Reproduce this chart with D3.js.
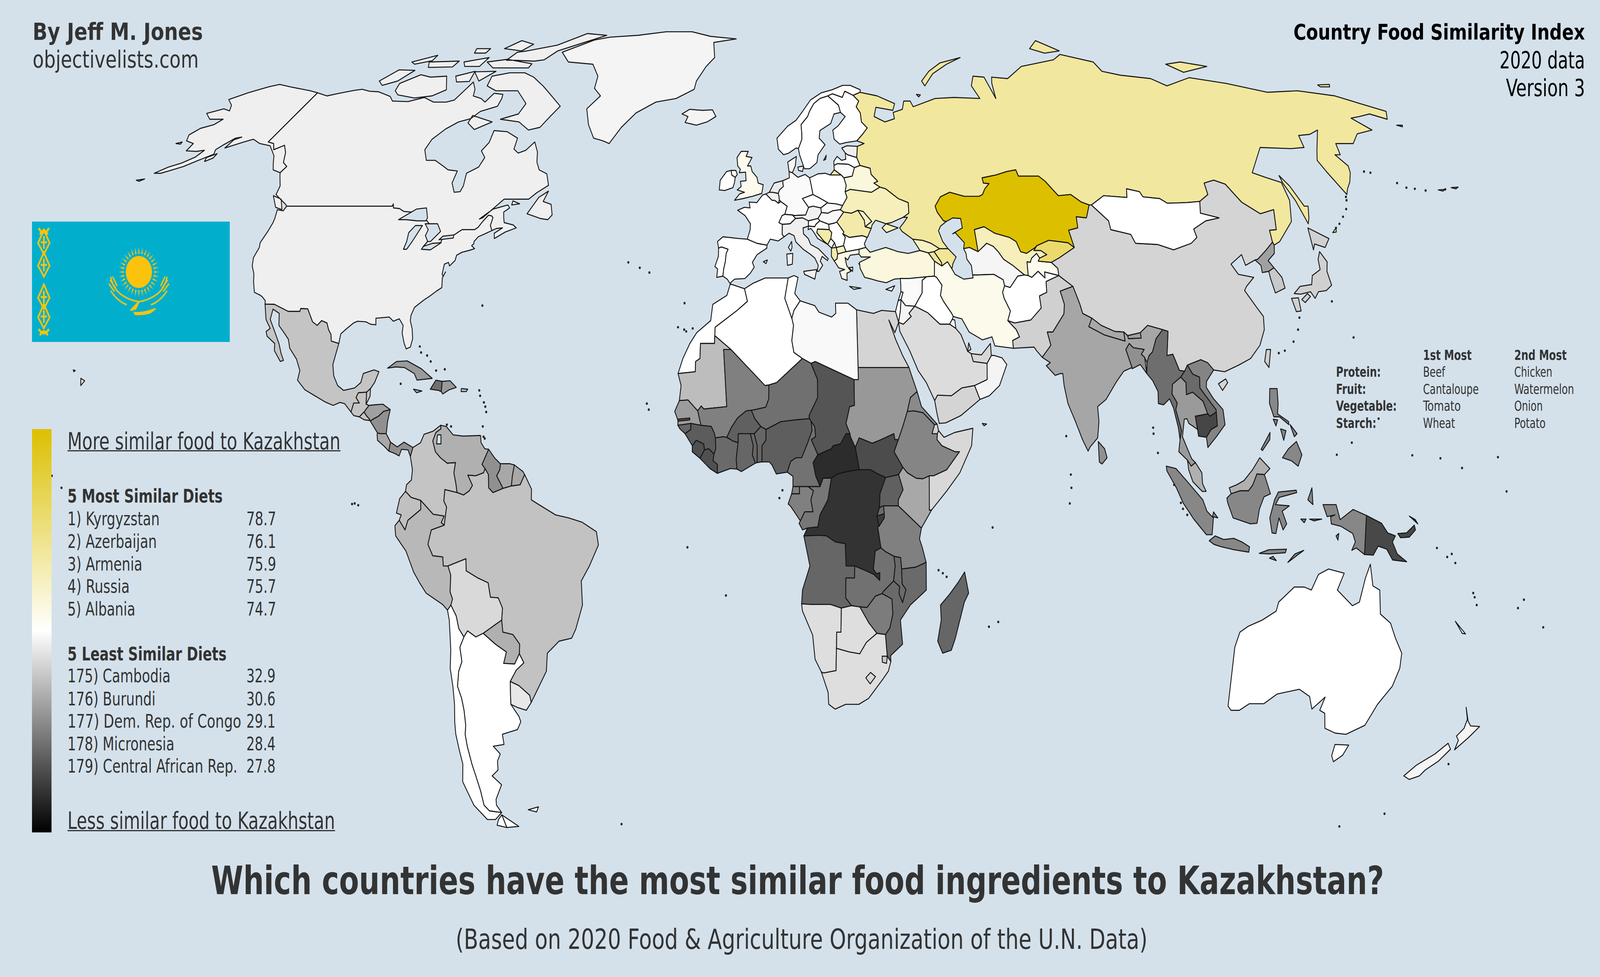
<!DOCTYPE html>
<html><head><meta charset="utf-8">
<script src="https://cdn.jsdelivr.net/npm/d3@7"></script>
<style>html,body{margin:0;padding:0;background:#d4e1eb;overflow:hidden}svg{display:block;width:100vw;height:100vh}</style>
</head><body><svg id="c" viewBox="0 0 5000 2500" preserveAspectRatio="none"></svg>
<script>
// ---------- Robinson table ----------
const robinsonLength=[1,.9986,.9954,.99,.9822,.973,.96,.9427,.9216,.8962,.8679,.835,.7986,.7597,.7186,.6732,.6213,.5722,.5322];
const robinsonDepth=[0,.062,.124,.186,.248,.31,.372,.434,.4958,.5571,.6176,.6769,.7346,.7903,.8435,.8936,.9394,.9761,1];

// ---------- Text data ----------
const mostNames=["1) Kyrgyzstan","2) Azerbaijan","3) Armenia","4) Russia","5) Albania"];
const mostValues=[78.7,76.1,75.9,75.7,74.7];
const leastNames=["175) Cambodia","176) Burundi","177) Dem. Rep. of Congo","178) Micronesia","179) Central African Rep."];
const leastValues=[32.9,30.6,29.1,28.4,27.8];
const foodRows=["Protein:","Fruit:","Vegetable:","Starch:"];
const foodFirst=["Beef","Cantaloupe","Tomato","Wheat"];
const foodSecond=["Chicken","Watermelon","Onion","Potato"];

// ---------- Country outlines: flat lon,lat lists ----------
const usa=[[-124.7,48.4,-123,48.2,-122.8,49,-95.15,49,-95.15,49.4,-94.6,48.7,-93,48.6,-91.5,48.1,-89.5,48,-84.5,46.5,-82.5,45.3,-82.4,43,-83.1,42.1,-79,42.8,-79,43.4,-76.5,44,-74.7,45,-71.5,45,-70.8,45.4,-70.2,46.3,-69.2,47.45,-68.3,47.35,-67.8,47.05,-67.8,45.7,-67,44.85,-68.5,44.3,-70,43.8,-70.7,43,-70.6,42.6,-71,42.3,-70,41.8,-71.3,41.5,-72.9,41.2,-74,40.7,-74,39.8,-75,38.9,-75.5,39.5,-76.4,39.2,-76.3,37.5,-75.9,37.2,-75.6,37.9,-76,36.9,-75.5,35.3,-76.6,34.7,-77.9,33.9,-79.2,33.2,-81,32,-81.4,30.7,-81.3,29.8,-80.5,28.4,-80,26.8,-80.2,25.4,-81.1,25.1,-81.8,26,-82.7,27.7,-82.8,29,-84,30.1,-85.3,29.7,-86.5,30.4,-88,30.3,-89.6,30.2,-89.3,29.1,-90.6,29.2,-91.8,29.6,-93.8,29.7,-94.7,29.4,-96,28.5,-97.2,27.6,-97.2,26,-99.1,26.4,-99.5,27.5,-100.3,28.3,-101,29.4,-102.4,29.8,-103.2,29,-104.5,29.6,-106.5,31.75,-108.2,31.8,-108.2,31.33,-111,31.33,-114.8,32.5,-117.1,32.55,-117.3,33.1,-118.4,33.8,-119.2,34.1,-120.6,34.5,-121.8,36.3,-122.5,37.6,-123.7,38.9,-124.3,40.3,-124.1,42,-124.5,42.8,-124,44.7,-123.9,46.2,-124.1,47],
[-141,69.6,-141,60.3,-139,60,-137.5,58.9,-135.5,59.7,-133.5,58.4,-131.8,56.6,-130,55.9,-130.5,54.8,-131.5,55,-133,55.3,-134.5,56.5,-136,57.8,-137.5,58.6,-139.5,59.6,-143,60,-146,60.8,-148,60.3,-149.7,59.8,-151.8,59.2,-151.5,60.7,-150,61.2,-151.5,61,-153,59.8,-154,58.9,-153.3,58.1,-156,57,-158.5,55.9,-161,55.2,-163,54.7,-164.8,54.7,-162.5,55.8,-160,56.5,-157.7,57.6,-157,58.8,-159,58.6,-162,58.7,-162,60,-164.8,60.5,-166,61.6,-164.8,62.8,-162,63.5,-161,64.5,-165,64.5,-168,65.6,-164.5,66.5,-162,66.1,-163.5,67.2,-166.5,68.3,-163,69.6,-159,70.8,-156.5,71.3,-152,70.8,-148,70.4,-144,70],
[-168,53.5,-166,53.7,-167,53.3],[-154.5,57.5,-152.5,58.2,-152.5,57.4,-154,56.8],[-167,60,-165.7,60.3,-165.5,59.9],[-171.7,63.4,-170,63.4,-170.5,63.1],[-174,52.2,-172,52.3,-173,52],[-178,51.8,-176,51.9,-177,51.6],[-156,20.2,-155,19.8,-155.7,19],[-158.2,21.6,-157.7,21.5,-158,21.3]];
const canada=[[-141,69.6,-137,69,-134,69.5,-130,70.1,-128,70.3,-125,69.9,-122,69.8,-117,68.9,-115,68,-110,67.9,-108,68.3,-106,68.7,-102,67.8,-98,67.8,-96,68.2,-94.5,71.8,-92,70.3,-91,69,-88,68.5,-86,67.8,-85,69.5,-82,69.3,-81.5,68.5,-81.3,67,-85.5,66,-87,64.6,-90,64,-92.5,62.7,-94.5,60.8,-94.7,58.9,-92.5,57,-90,57,-87,56,-85,55.3,-82.3,55.1,-82.2,53,-80.5,51.4,-79,51.5,-78.8,52.5,-79.5,54.7,-77,55.8,-76.6,57.5,-78.5,58.7,-77.5,60.2,-78,62.4,-74,62.2,-70,61,-69.5,59,-67.8,58.3,-66,58.8,-64.5,60.3,-62.5,58.5,-61.5,56.7,-60,55.3,-57.5,54.6,-56,52.6,-58.5,51.3,-60,50.2,-64,50.2,-66.5,50.2,-68,49,-70.5,47,-71.2,46.8,-69.5,47.9,-68.5,48.5,-65,49.2,-64.3,48.7,-65.5,48,-65,47,-64.5,46.2,-62,45.8,-61,45.3,-63.5,44.6,-65.8,43.5,-66.2,44.4,-64.5,45.3,-66,45.2,-67,44.85,-67.8,45.7,-67.8,47.05,-68.3,47.35,-69.2,47.45,-70.2,46.3,-70.8,45.4,-71.5,45,-74.7,45,-76.5,44,-79,43.4,-79,42.8,-83.1,42.1,-82.4,43,-82.5,45.3,-84.5,46.5,-89.5,48,-91.5,48.1,-93,48.6,-94.6,48.7,-95.15,49.4,-95.15,49,-122.8,49,-123.3,49.3,-125,50,-127.5,51,-128,52.5,-130,54.3,-130.5,54.8,-130,55.9,-131.8,56.6,-133.5,58.4,-135.5,59.7,-137.5,58.9,-139,60,-141,60.3],
[-128,50.8,-125.3,50.2,-123.5,48.4,-125.5,48.8],[-59.3,47.7,-57.5,50.5,-55.5,51.6,-56,49.8,-53.7,49.3,-52.7,47.5,-53.5,46.7,-55.5,46.9],
[-90,73,-85,73.7,-80,73.7,-76,72.8,-71,71,-67.5,69.5,-62,67,-63.5,65,-65,63,-68,62.5,-72,64,-78,64.5,-73.5,65.5,-73,67.5,-78,70,-85,70,-89,71],
[-118,71.5,-114,73.3,-110,72.8,-105,73,-101,70.2,-104,69,-109,68.6,-115,69.2,-117,70],[-125.5,72,-123,74.3,-117.5,74.2,-119.5,72,-123,71.1],
[-90,76.4,-89,78.2,-86,78.5,-77,79.8,-70,83,-62,82.5,-68,80.5,-75,78.5,-77,76.5,-80,76.2,-88,76.4],[-96,76,-90,76.6,-80,75.6,-80,74.7,-92,74.7],[-95,79,-92,81,-86,80,-88,78.5],[-116,76,-106,76.2,-106,74.9,-114,74.8],[-97,73.9,-90,74,-93,72],[-102,73,-97,74,-96,71.9,-100,71.8],[-87,65.2,-80,64,-84,62.6,-87,63.8],[-105,79,-100,79,-100,78,-104,78],[-104,76,-97,77,-97,75,-102,75],[-122,76,-116,77.5,-115.5,76.3,-120,75.5],[-64,49.9,-62,49.4,-64,49.2]];
const greenland=[[-73,78.2,-65,81.2,-60,82,-50,82.5,-40,83.5,-30,83.5,-22,82.2,-12,81.5,-20,80.5,-18,77,-20,75,-22,72,-22,70.3,-27,68.5,-33,67.8,-38,65.7,-41,63,-43,60,-45,60.5,-48,61,-51,63.5,-53.5,66.5,-51,69,-54,70.5,-55,73,-59,75.5,-68,76]];
const iceland=[[-24,65.5,-22,66.4,-18,66.2,-15,66.3,-13.6,65,-16,64,-19,63.4,-22.5,63.9,-22,65]];
const mexico=[[-117.1,32.55,-114.8,32.5,-111,31.33,-108.2,31.33,-108.2,31.8,-106.5,31.75,-104.5,29.6,-103.2,29,-102.4,29.8,-101,29.4,-100.3,28.3,-99.5,27.5,-99.1,26.4,-97.2,26,-97.8,22.5,-97.2,20.6,-96,19,-94.5,18.2,-92,18.6,-90.7,19.5,-90.4,21,-88,21.6,-86.8,21.3,-87.5,19.5,-88.3,18.5,-89.1,17.9,-91,17.8,-91.4,17,-90.5,16.1,-91.8,16.1,-92,15.3,-92.2,14.6,-93.9,16,-95,16.2,-96.5,15.7,-98.5,16.3,-101,17.3,-103.5,18.3,-105.5,19.9,-105.3,21.5,-106.5,23.4,-108.5,25.2,-109.3,26.7,-110.7,27.8,-112.3,29,-113,31,-114.8,31.7,-114.7,30,-112.8,27.8,-111.3,26,-110.3,24.3,-109.5,23.2,-110.2,23,-112,24.8,-112.3,26,-114.5,27.2,-115,28,-114.2,28.5,-115.7,30]];
const guatemala=[[-92.2,14.6,-92,15.3,-91.8,16.1,-90.5,16.1,-91.4,17,-91,17.8,-89.1,17.9,-88.9,15.9,-88.2,15.7,-89.2,14.6,-90.2,13.8,-91.5,14]];
const belize=[[-89.1,17.9,-88.3,18.5,-88.2,17.2,-88.9,15.9]];
const honduras=[[-89.2,14.6,-88.2,15.7,-87,15.8,-85,15.9,-83.2,15,-84.7,14.7,-85.8,13.9,-87,13.4,-87.6,13.1,-87.8,13.4,-88.5,13.9]];
const salvador=[[-90.2,13.8,-89.2,14.6,-88.5,13.9,-87.8,13.4,-87.8,13.2,-89,13.3]];
const nicaragua=[[-87.6,13.1,-87,13.4,-85.8,13.9,-84.7,14.7,-83.2,15,-83.6,13,-83.7,11,-85,11,-85.7,11.1]];
const costaRica=[[-85.7,11.1,-85,11,-83.7,11,-82.6,9.6,-82.9,8.1,-84,8.9,-85.6,9.9,-85.8,10.9]];
const panama=[[-82.9,8.1,-82.6,9.6,-81,8.8,-79.5,9.6,-77.4,8.7,-77.9,7.2,-78.5,8.3,-80,8.4,-80.5,7.3,-81.5,7.7]];
const cuba=[[-84.9,21.9,-83,23,-80.5,23.1,-77,21.8,-74.2,20.2,-77.7,19.9,-78.5,21,-81,22,-83,22.1]];
const haiti=[[-74.4,18.4,-73.3,19.9,-71.8,19.7,-71.8,18,-72.5,18.2]];
const dominican=[[-71.8,19.7,-70,19.8,-68.4,18.7,-70,18.3,-71.4,17.6,-71.8,18]];
const jamaica=[[-78.3,18.4,-76.3,18.1,-77.5,17.8]];
const puertoRico=[[-67.2,18.5,-65.7,18.4,-66,18,-67.2,18]];
const colombia=[[-77.4,8.7,-75.7,9.5,-75,10.9,-73,11.4,-71.3,12.4,-71.2,11.8,-72.3,11.2,-72.9,9.8,-72.2,8,-71,7,-69.4,6.1,-67.5,6.2,-67.8,4.5,-67.3,2.7,-67,1.2,-69.8,1.7,-70,-0.2,-69.4,-1.2,-70,-4.2,-70.7,-3.8,-70,-2.7,-72.5,-2.4,-75.3,-0.1,-77.5,0.4,-78.8,1.4,-78.6,2.5,-77.5,3.3,-77.3,5,-77.9,7.2]];
const venezuela=[[-71.2,11.8,-71.3,12.4,-70,12.2,-68.3,10.8,-66,10.6,-62,10.7,-61.8,9.5,-60.9,8.5,-60,8.4,-61.4,5.9,-60.7,5.2,-61,4.5,-62.8,4,-64.6,4.1,-63.5,2.4,-64.2,1.5,-65.5,0.8,-67,1.2,-67.3,2.7,-67.8,4.5,-67.5,6.2,-69.4,6.1,-71,7,-72.2,8,-72.9,9.8,-72.3,11.2]];
const guyana=[[-60,8.4,-58.5,6.9,-57.2,6,-57.3,5,-58,4,-56.5,1.9,-58.8,1.2,-59.8,2,-59.9,4.2,-60.7,5.2,-61.4,5.9]];
const suriname=[[-57.2,6,-55,6,-54,5.8,-54.4,4,-54.6,2.3,-56.5,1.9,-58,4,-57.3,5]];
const frenchGuiana=[[-54,5.8,-52,4.7,-51.6,4.2,-52.6,2.5,-54.6,2.3,-54.4,4]];
const brazil=[[-51.6,4.2,-50,1.8,-50,0,-48.5,-0.7,-44.5,-2.5,-41.5,-3,-38.5,-3.7,-35.2,-5.3,-34.8,-7.5,-37,-11,-39,-13.5,-39,-17.5,-40.9,-21.5,-42,-23,-45,-23.5,-48,-25.5,-48.7,-28.5,-52,-32.2,-53.4,-33.7,-53.5,-32.5,-55.7,-30.9,-57.6,-30.2,-55.8,-28.3,-53.8,-27.1,-54.6,-25.6,-54.3,-24,-55.7,-22.4,-58,-22,-58,-20,-57.6,-18,-58.4,-16.3,-60.2,-16.2,-60.5,-13.8,-62.8,-13,-65.4,-11.8,-65.3,-9.8,-69.5,-11,-70.6,-11,-70.6,-9.5,-72.9,-9.3,-73.9,-7.4,-73,-5,-70,-4.2,-69.4,-1.2,-70,-0.2,-69.8,1.7,-67,1.2,-65.5,0.8,-64.2,1.5,-63.5,2.4,-64.6,4.1,-62.8,4,-61,4.5,-60.7,5.2,-59.9,4.2,-59.8,2,-58.8,1.2,-56.5,1.9,-54.6,2.3,-52.6,2.5]];
const ecuador=[[-78.8,1.4,-77.5,0.4,-75.3,-0.1,-75.3,-1.6,-78.3,-3.4,-79,-5,-80.3,-3.4,-79.8,-2.5,-80.9,-2.2,-80.1,0.2]];
const peru=[[-80.3,-3.4,-79,-5,-78.3,-3.4,-75.3,-1.6,-75.3,-0.1,-72.5,-2.4,-70,-2.7,-70.7,-3.8,-70,-4.2,-73,-5,-73.9,-7.4,-72.9,-9.3,-70.6,-9.5,-70.6,-11,-69.5,-11,-69,-12.5,-69.4,-15.3,-69,-16.5,-69.5,-17.5,-70.4,-18.35,-71.4,-17.4,-75,-15.5,-76.3,-13.8,-77.5,-12,-79,-8.5,-81.2,-6,-81.3,-4.3]];
const bolivia=[[-69.5,-11,-65.3,-9.8,-65.4,-11.8,-62.8,-13,-60.5,-13.8,-60.2,-16.2,-58.4,-16.3,-57.6,-18,-58,-20,-62.6,-22.2,-64.4,-22.8,-66.2,-21.8,-67.2,-22.8,-68.2,-21.4,-68.5,-19.3,-69.5,-17.5,-69,-16.5,-69.4,-15.3,-69,-12.5]];
const paraguay=[[-58,-20,-58,-22,-55.7,-22.4,-54.3,-24,-54.6,-25.6,-56,-27.3,-58.6,-27.2,-57.6,-25.3,-60,-24,-62.6,-22.2]];
const uruguay=[[-57.6,-30.2,-55.7,-30.9,-53.5,-32.5,-53.4,-33.7,-54.9,-35,-57,-34.5,-58.4,-34,-58,-32]];
const argentina=[[-66.2,-21.8,-64.4,-22.8,-62.6,-22.2,-60,-24,-57.6,-25.3,-58.6,-27.2,-56,-27.3,-54.6,-25.6,-53.8,-27.1,-55.8,-28.3,-57.6,-30.2,-58,-32,-58.4,-34,-57,-36,-56.8,-36.9,-58,-38.2,-62,-39,-62.2,-40.7,-65,-41,-63.8,-42.3,-65,-43.5,-65.5,-45,-67.5,-46,-65.8,-47.5,-68.5,-50,-69,-51,-68.4,-52.3,-71.5,-52,-72.3,-51,-71.8,-48.5,-71.7,-46,-71.7,-44,-71.5,-41,-71.2,-39,-70.5,-37.5,-70,-35,-70,-33,-70.4,-31,-69.5,-28.5,-68.4,-26.9,-68.4,-24.5,-67.2,-22.8],[-68.6,-52.7,-65.2,-54.7,-68.6,-54.9],[-61,-51.8,-58,-51.3,-59,-52.2]];
const chile=[[-70.4,-18.35,-69.5,-17.5,-68.5,-19.3,-68.2,-21.4,-67.2,-22.8,-68.4,-24.5,-68.4,-26.9,-69.5,-28.5,-70.4,-31,-70,-33,-70,-35,-70.5,-37.5,-71.2,-39,-71.5,-41,-71.7,-44,-71.7,-46,-71.8,-48.5,-72.3,-51,-71.5,-52,-68.4,-52.3,-70.8,-53.5,-73,-53.5,-75,-51,-75.6,-47,-74,-44,-73.8,-41.8,-73.5,-39,-73,-37,-72,-34,-71.5,-31,-71.4,-28,-70.6,-25,-70.2,-20],[-68.6,-52.7,-68.6,-54.9,-71,-54.5,-70,-53.5]];
const portugal=[[-8.9,41.9,-8.2,42.1,-6.5,41.7,-6.9,41,-7,39.6,-7.3,38.4,-7.4,37.2,-8.9,37,-8.8,38.4,-9.5,38.8,-8.8,40.5]];
const spain=[[-8.9,41.9,-9.3,43,-8,43.8,-3.8,43.5,-1.8,43.4,0.7,42.7,3.2,42.4,3.2,41.9,0.8,40.8,-0.3,39.5,0.2,38.7,-0.7,37.7,-2,36.8,-4.5,36.7,-5.6,36,-6.3,36.7,-7.4,37.2,-7.3,38.4,-7,39.6,-6.9,41,-6.5,41.7,-8.2,42.1],[2.4,39.6,3.4,39.9,3.1,39.3]];
const france=[[-1.8,43.4,-1.2,45,-1.2,46,-2.7,47.4,-4.7,48.3,-3,48.8,-1.5,48.7,-1.8,49.7,0.2,49.6,1.6,50.9,2.5,51.1,4.2,50,4.9,50,5.9,49.5,6.5,49.8,8.2,49,7.6,47.6,6.9,47.4,6.1,46.2,7,45.9,7,44.2,7.5,43.8,6,43.1,4,43.4,3.2,42.4,0.7,42.7],[8.6,42,9.4,43,9.5,42,9.2,41.4]];
const belgium=[[2.5,51.1,3.4,51.4,4.3,51.4,5.8,51.2,6,50.7,6.1,50.1,5.9,49.5,4.9,50,4.2,50]];
const netherlands=[[3.4,51.4,4.6,53,6.9,53.4,7.1,52.4,6.1,51.8,5.8,51.2,4.3,51.4]];
const germany=[[6.9,53.4,8.7,53.9,8.6,55,9.5,54.8,11,54,13,54.5,14.2,53.9,14.6,52.6,15,51,12.2,50.3,13.8,48.8,13,47.5,10,47.4,9.6,47.5,7.6,47.6,8.2,49,6.5,49.8,6.1,50.1,6,50.7,5.8,51.2,6.1,51.8,7.1,52.4]];
const denmark=[[8.6,55,8.2,56.7,10.6,57.7,10.3,56,9.5,54.8],[11,55.8,12.6,56,12.3,55,11.2,55.2]];
const switzerland=[[6.1,46.2,6.9,47.4,7.6,47.6,9.6,47.5,10.4,46.9,9,46,7,45.9]];
const austria=[[9.6,47.5,10,47.4,13,47.5,13.8,48.8,15,49,17,48.7,17.1,47.9,16.2,46.9,13.7,46.5,12.2,47,10.4,46.9]];
const italy=[[7,45.9,9,46,10.4,46.9,12.2,47,13.7,46.5,13.7,45.6,12.3,45.3,12.4,44.3,13.6,43.5,14.2,42.5,16.1,41.8,18.5,40.1,18.3,39.8,17,40.5,16.5,39.7,17.1,39,16.1,38,15.7,38,16,39,15.2,40.2,14,40.9,12.3,41.7,10.5,42.9,10,44,8.7,44.4,7.5,43.8,7,44.2],[8.2,40.9,9.7,41,9.6,39.2,8.4,39],[12.4,38,15.6,38.3,15.1,36.7,12.6,37.5]];
const ireland=[[-10,53.5,-8.5,55,-7.3,55.2,-7,54.4,-6,54,-6.1,53,-6.4,52.2,-8.5,51.7,-10,51.8]];
const britain=[[-5.7,50,-3.5,50.3,-1,50.7,1.4,51.2,1.7,52.7,0.3,53,-0.1,54,-1.5,55,-2,56,-2.9,56,-1.8,57.5,-3.5,57.7,-3,58.6,-5,58.6,-6,57.5,-5.6,56,-4.8,55.4,-5,54.8,-3.3,54.9,-3,53.4,-4.5,53.3,-4.2,52.4,-5.2,51.8,-3.2,51.4,-4.5,51.1],[-7.3,55.2,-6,55.2,-5.5,54.5,-6,54,-7,54.4]];
const norway=[[5,61,5.5,59,7,58,8.5,58.3,10.5,59.2,11.2,59.1,12.2,60.8,12.2,61.8,12,63.5,14,65,14.6,66,16,67.5,18,68.5,20.5,69,22,69.4,25,68.7,26,69.9,28.5,69.1,30.8,69.7,31,70.2,28,71.1,25.5,71.1,22,70.2,18.5,69.6,15,68.2,12.5,66,10.5,64.3,8,63.2]];
const sweden=[[11.2,59.1,11.5,58,12.8,55.5,14.3,55.5,16.3,56.6,16.7,58,18.8,59.8,17.2,61,17.5,62.4,20.8,63.7,22,65.5,24,65.8,23.6,67.2,20.5,69,18,68.5,16,67.5,14.6,66,14,65,12,63.5,12.2,61.8,12.2,60.8],[18.2,57,19,57.9,18.8,57.2]];
const finland=[[24,65.8,25.3,65,23,63.3,21.3,62.5,21.5,60.8,23,59.9,25,60.2,28,60.5,30,61.8,31.5,62.9,30,64,30,65.7,29,66.9,30,68,28.5,69.1,26,69.9,25,68.7,22,69.4,20.5,69,23.6,67.2]];
const estonia=[[23.5,59.2,25,59.6,28,59.5,27.5,57.5,25,58,24.4,58.3]];
const latvia=[[21,56.8,22,57.7,23.2,57,24.4,57.2,24.4,58.3,25,58,27.5,57.5,28.2,56.1,26.6,55.7,25,56.3,22,56.4,21,56.1]];
const lithuania=[[21,56.1,22,56.4,25,56.3,26.6,55.7,25.8,54.2,23.5,53.9,22.8,54.4,21,55.3]];
const poland=[[14.2,53.9,16.5,54.6,18.5,54.7,19.8,54.4,22.8,54.4,23.5,53.9,24,52.6,23.6,51.5,24,50.5,22.7,49.1,20.9,49.4,19,49.5,18.8,49.6,17,50.3,15,51,14.6,52.6]];
const czechia=[[12.2,50.3,15,51,17,50.3,18.8,49.6,17,48.7,15,49,13.8,48.8]];
const slovakia=[[17,48.7,18.8,49.6,19,49.5,20.9,49.4,22.7,49.1,22.1,48.4,20,48.2,18.8,47.8,17.1,47.9]];
const hungary=[[16.2,46.9,17.1,47.9,18.8,47.8,20,48.2,22.1,48.4,22.9,48,21,46.3,20.3,46.1,18.9,45.9,16.6,46.5]];
const slovenia=[[13.7,46.5,16.2,46.9,16.6,46.5,15.6,45.9,15.3,45.5,13.7,45.6]];
const croatia=[[13.7,45.6,15.3,45.5,15.6,45.9,16.6,46.5,18.9,45.9,19,45,16,45.1,15.8,44.5,17.5,43.1,18.5,42.5,16,43.5,14.9,44.7,14.3,45.2,13.6,45]];
const bosnia=[[16,45.1,19,45,19.6,44.5,19.3,43.5,18.5,42.5,17.5,43.1,15.8,44.5]];
const serbia=[[18.9,45.9,20.3,46.1,21,46.3,22.7,44.6,22.4,44.3,23,43.7,22.5,42.5,22.5,42.3,20.6,42,20.2,42.8,19.3,43.5,19.6,44.5,19,45]];
const montenegro=[[18.5,42.5,19.3,43.5,20.2,42.8,19.4,41.9]];
const albania=[[19.4,41.9,20.6,42,20.9,40.9,20.7,40.1,20,39.7,19.3,40.5]];
const macedonia=[[20.6,42,22.5,42.3,23,41.3,20.9,40.9]];
const greece=[[20,39.7,20.7,40.1,20.9,40.9,23,41.3,26.3,41.7,26.2,40.9,24,40.7,23.3,39.9,22.7,40.3,23,39,24,38,23,37.7,23,36.5,21.7,36.8,21.2,38,22.5,38.3,21,38.6],[23.5,35.5,26.3,35.2,24.5,35],[23.5,38.6,24.5,38.7,24.4,38],[26,39.3,26.6,39.3,26.3,39]];
const bulgaria=[[22.4,44.3,24,43.7,27.3,44,28.5,43.7,27.7,42.6,28,42,26.3,41.7,23,41.3,22.5,42.3,22.5,42.5,23,43.7]];
const romania=[[21,46.3,22.9,48,24.9,47.8,26.6,48.3,28.1,46.6,28.2,45.5,29.7,45.2,28.6,43.7,27.3,44,24,43.7,22.4,44.3,22.7,44.6]];
const moldova=[[26.6,48.3,28,48.1,30,46.4,28.2,45.5,28.1,46.6]];
const ukraine=[[24,50.5,23.6,51.5,25,51.9,30.6,51.4,33,52.3,34.5,52,37.5,50.3,40,49.6,39.8,47.8,38.2,47.1,35,46.2,33.6,46,36.6,45.3,33.5,44.5,32.5,45.3,33.6,46,31,46.6,30,45.8,29.7,45.2,28.2,45.5,30,46.4,28,48.1,26.6,48.3,24.9,47.8,22.9,48,22.1,48.4,22.7,49.1]];
const belarus=[[23.5,53.9,25.8,54.2,26.6,55.7,28.2,56.1,30.9,55.6,31,54.5,32.6,53.3,31.5,53,33,52.3,30.6,51.4,25,51.9,23.6,51.5,24,52.6]];
const turkey=[[26.3,41.7,28,42,29,41.2,33,42,36,41.3,38.5,41,41.5,41.5,43.5,41.1,44.8,39.7,44.4,37.2,42.4,37.1,38,36.8,36.7,36.8,36,36.8,34.5,36.7,32.5,36.1,30.5,36.4,29,36.7,27.3,37,26.3,38.5,26.2,39.5,29,40.4,26.7,40.4,26.2,40.9]];
const georgia=[[40,43.4,42.5,43.2,44.5,42.7,46.5,41.8,45,41.3,43.5,41.1,41.5,41.5]];
const armenia=[[43.5,41.1,45,41.3,46.5,39.5,46.5,38.9,44.8,39.7]];
const azerbaijan=[[45,41.3,46.5,41.8,48.6,41.8,50.3,40.4,49.3,39.3,48.9,38.4,48,39.6,46.5,38.9,46.5,39.5]];
const russia=[[30.8,69.7,33,69.4,36,69,41,67.5,40,66.2,35,66.8,34,65,37,64,40,64.6,40,65.8,43,66.4,44,68,46,68,46.5,66.9,54,68.5,60,68.7,68,68.5,67,71,69,73,72.5,72.8,73,68.5,74,71.5,75,72.8,80,72.5,87,75,100,76.5,104,77.7,113,76,113,74,118,73.2,127,72.5,130,71,140,72.7,150,71.5,160,69.7,170,70,180,69,185,67.5,190,66,187.5,64.5,184,65.5,180,65,177,64.7,179.5,62.5,174,61.8,170,60,165,60,163.5,58,162,58,163,56,162,54.8,160,53.2,158,52,156.7,51,155.7,55,155.7,57,158,58.8,163.5,62.5,160,61.7,156.5,61.5,155,59.3,151,59.1,142.5,59.3,135.2,54.8,138,54,141.4,53.1,140.5,50,138,46.4,132.5,43,130.7,42.4,130.6,42.9,131.2,44.9,133,45,135,48.4,131,47.7,127.6,49.7,126,52.8,123.5,53.5,120.5,53,119.8,51,116.7,49.8,113,49.6,108,49.5,106.5,50.3,102.3,50.6,102,51.5,98.9,52,98,50.5,92,50.8,87.9,49.2,87.3,49.2,85.5,49.7,83.4,51,80,50.8,77.8,53.3,76.5,54.2,71,54.2,70.8,55.3,68.2,55,65,54.4,61,53.9,61,53,62.5,52.9,61,52,60,51,59,50.7,55,50.7,51.4,51.4,48.7,50.6,46.9,49,47.2,48,48.5,46.5,49.2,46.4,47.5,45.6,46.8,44.8,47.5,43,48.6,41.8,46.5,41.8,44.5,42.7,42.5,43.2,40,43.4,37.5,44.7,37,45.3,38.2,46.2,39.3,47.1,38.2,47.1,39.8,47.8,40,49.6,37.5,50.3,34.5,52,33,52.3,31.5,53,32.6,53.3,31,54.5,30.9,55.6,28.2,56.1,27.5,57.5,28,59.5,30,60,28,60.5,30,61.8,31.5,62.9,30,64,30,65.7,29,66.9,30,68,28.5,69.1],
[19.8,54.4,21,55.3,22.8,54.4],[52,71,56,73.5,62,75.5,68,77,60,75.8,55,74,51.5,72],[95,79,100,81,105,78.5,99,78],[142,54.3,143,52.5,143.5,49,144.5,49,143,47,142,46,142,48,142,50,141.7,53],[137,75.5,143,76,150,75,140,73.8],[179,71.2,183,71.3,182,70.8,179,70.8],[48.5,69.3,49.7,69.2,49,68.8],[147,44.5,148.5,45.3,148,44.6]];
const kazakhstan=[[46.9,49,48.7,50.6,51.4,51.4,55,50.7,59,50.7,60,51,61,52,62.5,52.9,61,53,61,53.9,65,54.4,68.2,55,70.8,55.3,71,54.2,76.5,54.2,77.8,53.3,80,50.8,83.4,51,85.5,49.7,87.3,49.2,85.7,47.2,85.5,47,83,47.2,82.5,45.3,80,44.9,80.3,42,79,42.8,74.3,43.2,71,42.3,70.5,42,68,41,66.6,41.3,66,43,64.5,43.7,61,44.4,58.6,45.5,56,45,56,41.3,54,42,52.5,41.8,52.9,42.8,51,44.5,50.3,44.3,53,45.3,53,46.9,51,47,49.2,46.4,48.5,46.5,47.2,48]];
const uzbekistan=[[56,45,58.6,45.5,61,44.4,64.5,43.7,66,43,66.6,41.3,68,41,70.5,42,71,42.3,70,41.5,71.7,41.5,73,40.8,71,40.2,70.5,41,69,40.2,68.5,39.5,67.7,39.6,67.4,37.3,66.5,37.4,64,39,62,40,61,41.3,60,42.2,58.5,42.7,56,41.3]];
const turkmenistan=[[52.5,41.8,54,42,56,41.3,58.5,42.7,60,42.2,61,41.3,62,40,64,39,66.5,37.4,64.8,37.2,62.5,35.3,61.2,35.6,61.1,36.6,59,37.5,54.8,37.4,53.8,37.4,53.8,39,52.9,40,52.9,41]];
const tajikistan=[[67.4,37.3,67.7,39.6,68.5,39.5,69,40.2,70.5,41,71,40.2,70.5,39.7,73.7,39.5,75,38.5,74.9,37.3,71.6,37.9,71.4,36.9,70,38,68.2,37]];
const kyrgyzstan=[[71,42.3,74.3,43.2,79,42.8,80.3,42,76,40.3,73.7,39.5,70.5,39.7,71,40.2,73,40.8,71.7,41.5,70,41.5]];
const afghanistan=[[61.2,35.6,62.5,35.3,64.8,37.2,66.5,37.4,67.4,37.3,68.2,37,70,38,71.4,36.9,71.6,37.9,74.9,37.3,71.5,36.3,71.2,34.5,69.3,33.9,69.3,31.9,66.4,29.9,62.5,29.4,60.9,29.8,61.8,31.4,60.7,33.5,60.5,34.5]];
const pakistan=[[60.9,29.8,62.5,29.4,66.4,29.9,69.3,31.9,69.3,33.9,71.2,34.5,71.5,36.3,74.9,37.3,77.8,35.5,74.5,34.7,75,32.5,74.5,30.9,71.3,27.9,70,27.9,70.5,25.7,68.2,23.7,67,24.8,66.5,25.4,61.6,25.2,61.6,26.5,63.3,27.1,62.7,28.3]];
const iran=[[44.8,39.7,46.5,38.9,48,39.6,48.9,38.4,49.5,37.5,51.5,36.7,53.8,36.9,53.8,37.4,54.8,37.4,59,37.5,61.1,36.6,61.2,35.6,60.5,34.5,60.7,33.5,61.8,31.4,60.9,29.8,62.7,28.3,63.3,27.1,61.6,26.5,61.6,25.2,57.3,25.6,56.8,27.1,54.5,26.6,51.5,27.9,50,30.1,48.9,30.3,48,30.5,47.7,31,46,33,45.4,34,46,35.7,44.9,37,44.4,37.2]];
const iraq=[[42.4,37.1,44.4,37.2,44.9,37,46,35.7,45.4,34,46,33,47.7,31,48,30.5,47.7,30,47,29.2,44.7,29.2,42,31.1,39,32.2,41,34.4,41.3,36.5]];
const kuwait=[[47,29.2,47.7,30,48.3,29.9,48.4,28.5]];
const syria=[[36,36.8,36,35.8,35.9,34.6,36.4,34.5,35.8,33.3,36.8,32.3,39,32.2,41,34.4,41.3,36.5,42.4,37.1,38,36.8,36.7,36.8]];
const lebanon=[[35.9,34.6,36.4,34.5,35.8,33.3,35.1,33.1]];
const israel=[[35.1,33.1,35.8,33.3,35.5,31.5,34.9,29.5,34.3,31.3]];
const jordan=[[35.8,33.3,36.8,32.3,39,32.2,37.5,31,38,30.5,36,29.2,34.9,29.5,35.5,31.5]];
const saudi=[[34.9,29.5,36,29.2,38,30.5,37.5,31,39,32.2,42,31.1,44.7,29.2,47,29.2,48.4,28.5,49.5,27.5,50.2,26,50.8,24.7,51.6,24.3,52,23,55.2,22.7,55,20,52,19,49,18.6,46.5,17.3,43.3,17.4,42.6,16.5,40.8,19.5,39,21.5,37.2,24.8,35.1,28]];
const yemen=[[43.3,17.4,46.5,17.3,49,18.6,52,19,53.1,16.7,48.5,14,45,12.8,43.5,12.7,43,14.5,42.6,16.5],[53.4,12.7,54.4,12.6,53.8,12.3]];
const oman=[[52,19,55,20,55.2,22.7,56.3,24,57,24,58.8,23.6,59.8,22.5,57.8,19,55.3,17.3,53.1,16.7]];
const uae=[[51.6,24.3,54,24.1,56.3,26,56.3,24,55.2,22.7,52,23]];
const qatar=[[50.8,24.7,51.2,26.1,51.6,25]];
const egypt=[[25,31.6,29,31,31,31.5,34.3,31.3,34.9,29.5,33.9,27.8,32.6,29.9,34,26.7,35.5,24,36.9,22,25,22]];
const sudan=[[25,22,36.9,22,37.3,21,38.6,18,37,17,36.2,14.7,35,12,34,10,33.2,10,33,11,30,10,28,9.4,25,10.3,24.1,8.7,23,10.5,22.9,11,22,12.7,22.9,15.5,24,15.7,24,20,25,20]];
const southSudan=[[24.1,8.7,25,10.3,28,9.4,30,10,33,11,33.2,10,34,10,33,8,35,5.4,34,4.2,31,3.7,29,4.4,27.5,5,25,5]];
const car=[[14.4,6.2,15.5,7.5,18.6,8.5,19,9,20.7,9.3,22,11,22.9,11,23,10.5,24.1,8.7,25,5,22.9,4.8,20,4.3,18.6,3.6,16.7,3.6,16,2.2,15,4]];
const chad=[[24,20,24,15.7,22.9,15.5,22,12.7,22.9,11,22,11,20.7,9.3,19,9,18.6,8.5,15.5,7.5,14,10,15,10.5,14.8,12.2,14,13,13.6,13.5,13.5,14,15.5,17,15.5,20,14,22.7,15,23]];
const libya=[[9.5,30.2,10,31.5,11.5,33.1,15,32.3,16,31.2,19,30.4,20,31,20,32.7,23,32.7,25,31.6,25,22,25,20,24,20,15,23,14,22.7,12,23.5,10,24.5,9.5,26.5,9.9,29]];
const algeria=[[-8.7,27.3,-4.8,25,3.3,19,4.2,19.1,6,19.5,12,23.5,10,24.5,9.5,26.5,9.9,29,9.5,30.2,7.8,33.5,8.6,36.9,3,36.9,0,36,-2,35.1,-1.2,33,-3.6,31.5,-8.7,28.7]];
const tunisia=[[8.6,36.9,10,37.3,11,37,10.2,34.3,11.5,33.1,10,31.5,9.5,30.2,7.8,33.5]];
const morocco=[[-2,35.1,-5.5,35.9,-6.2,34,-9.5,32.5,-9.8,29.8,-13,27.8,-14.5,26,-16,23.5,-17,21,-13,21.3,-13,23,-12,23.5,-12,26,-8.7,26,-8.7,27.3,-8.7,28.7,-3.6,31.5,-1.2,33]];
const mauritania=[[-17,21,-16.2,19,-16.5,16.5,-14.5,16.6,-12.2,14.8,-11.4,15.6,-10.8,15.1,-5.5,15.5,-6.5,25,-4.8,25,-8.7,27.3,-8.7,26,-12,26,-12,23.5,-13,23,-13,21.3]];
const mali=[[-12.2,14.8,-11.4,15.6,-10.8,15.1,-5.5,15.5,-6.5,25,-4.8,25,3.3,19,4.2,19.1,4.2,16.8,3.5,15.4,1,15,0.2,14.9,-1,14.8,-2,14.2,-3,13.6,-4.4,12,-5.4,10.4,-6.2,10.5,-8,10.3,-8.3,11.1,-9,12.2,-11.4,12.4]];
const senegal=[[-16.5,16.5,-17.5,14.7,-16.8,13.4,-14,13.6,-14,13.3,-16.7,13.1,-16.7,12.4,-13.7,12.7,-11.4,12.4,-12.2,14.8,-14.5,16.6]];
const gambia=[[-16.8,13.4,-14,13.6,-14,13.3,-16.7,13.1]];
const guineaBissau=[[-16.7,12.4,-13.7,12.7,-13.7,11.7,-15,11,-16.2,11.8]];
const guinea=[[-15,11,-13.7,11.7,-13.7,12.7,-11.4,12.4,-9,12.2,-8.3,11.1,-8,10.3,-7.9,8.5,-8.3,7.6,-9.5,8.5,-10.5,8.3,-10.7,9.3,-12.4,9.9,-13.3,9]];
const sierraLeone=[[-13.3,9,-12.4,9.9,-10.7,9.3,-10.5,8.3,-11.5,6.9,-13.3,8]];
const liberia=[[-11.5,6.9,-10.5,8.3,-9.5,8.5,-8.3,7.6,-8.5,6.5,-7.5,5.9,-7.5,4.4,-9.2,5.2]];
const ivoryCoast=[[-8.3,7.6,-7.9,8.5,-8,10.3,-6.2,10.5,-5.4,10.4,-4,9.8,-2.8,9.5,-3.2,6.8,-3,5.1,-4.5,5.2,-7.5,4.4,-7.5,5.9,-8.5,6.5]];
const ghana=[[-3,5.1,-3.2,6.8,-2.8,9.5,-2.8,11,0,11,0.7,9,0.5,7.5,1.2,6.1,-2,4.7]];
const togo=[[0,11,0.9,11,1.6,9,1.6,6.2,1.2,6.1,0.5,7.5,0.7,9]];
const benin=[[0.9,11,2.4,12.2,3.6,11.7,3.6,9.9,2.7,9,2.7,6.3,1.6,6.2,1.6,9]];
const burkina=[[-5.4,10.4,-4.4,12,-3,13.6,-2,14.2,-1,14.8,0.2,14.9,1,13.5,2.4,12.2,0.9,11,0,11,-2.8,11,-2.8,9.5,-4,9.8]];
const niger=[[3.5,15.4,4.2,16.8,4.2,19.1,6,19.5,12,23.5,14,22.7,15.5,20,15.5,17,13.5,14,13.6,13.5,10.5,13.3,7,13,3.6,11.7,2.4,12.2,1,13.5,0.2,14.9,1,15]];
const nigeria=[[2.7,6.3,2.7,9,3.6,9.9,3.6,11.7,7,13,10.5,13.3,13.6,13.5,14,13,14.2,11.5,13.2,9.5,11.8,7,10.5,7,9.3,6.4,8.5,4.6,6,4.3,5,5.8,4.4,6.3]];
const cameroon=[[8.5,4.6,9.3,6.4,10.5,7,11.8,7,13.2,9.5,14.2,11.5,14,13,14.8,12.2,15,10.5,14,10,15.5,7.5,14.4,6.2,15,4,16,2.2,13.3,2.2,11.3,2.2,9.8,2.2,9.8,3.9]];
const eqGuinea=[[9.8,2.2,11.3,2.2,11.3,1,9.5,1]];
const gabon=[[9.5,1,11.3,1,11.3,2.2,13.3,2.2,14.5,1.5,13.9,0,14.4,-2,12.5,-2,11.5,-3.5,9.2,-1,8.7,-0.7]];
const congo=[[13.3,2.2,16,2.2,16.7,3.6,18.6,3.6,17.8,0,16,-2.5,15.5,-4.5,13.1,-4.7,12,-5,11.2,-3.9,11.5,-3.5,12.5,-2,14.4,-2,13.9,0,14.5,1.5]];
const drc=[[18.6,3.6,20,4.3,22.9,4.8,25,5,27.5,5,29,4.4,31,3.7,29.7,1,29.6,-1.3,29,-2.7,29.5,-4.4,29.2,-4.5,30,-8,28.7,-8.5,28.3,-11.5,29,-12.3,29.8,-12.1,29.8,-13.4,28.4,-12.4,26.9,-11.9,24,-11,22,-11,21.8,-7.3,19.5,-7,17.5,-6,16,-5.9,12.3,-6,13.1,-4.7,15.5,-4.5,16,-2.5,17.8,0]];
const uganda=[[31,3.7,34,4.2,35,1.7,33.9,0,33.9,-1,30.5,-1,29.6,-1.3,29.7,1]];
const kenya=[[34,4.2,35,5.4,36,4.5,38,3.6,39.5,3.5,41,4,41,-1.7,41.5,-1.7,39.2,-4.7,33.9,-1,33.9,0,35,1.7]];
const tanzania=[[33.9,-1,39.2,-4.7,38.8,-6.5,39.5,-8,40.4,-10.4,38,-11.2,34.8,-11.5,34.5,-9.6,33,-9.4,31,-8.6,30,-8,29.2,-4.5,29.5,-4.4,30.7,-3,30.7,-2.3,30.5,-1]];
const rwanda=[[30.5,-1,30.7,-2.3,29,-2.7,29.6,-1.3]];
const burundi=[[29,-2.7,30.7,-2.3,30.7,-3,29.5,-4.4]];
const ethiopia=[[33,8,34,10,35,12,36.2,14.7,37.7,14.8,39.8,14.5,42.4,12.5,41.8,11,43,11,42.9,10,44,9,47,8,48,8,45,5,42,4,41,4,39.5,3.5,38,3.6,36,4.5,35,5.4]];
const eritrea=[[36.2,14.7,37,17,38.6,18,39.5,15.5,43,12.6,42.4,12.5,39.8,14.5,37.7,14.8]];
const djibouti=[[42.4,12.5,43,12.6,43.3,11.5,43,11,41.8,11]];
const somalia=[[43,11,43.3,11.5,44.5,10.4,47,11.2,51.2,11.9,50.8,9,48,4.5,45,1.5,41.5,-1.7,41,-1.7,41,4,42,4,45,5,48,8,47,8,44,9,42.9,10]];
const angola=[[12.3,-6,16,-5.9,17.5,-6,19.5,-7,21.8,-7.3,22,-11,24,-11,24,-13,22,-13,22,-16.3,23.4,-17.6,21,-18,18.5,-17.4,14,-17.4,11.8,-17.3,12,-15,13.7,-11,13,-8.5]];
const zambia=[[22,-13,24,-13,24,-11,26.9,-11.9,28.4,-12.4,29.8,-13.4,29.8,-12.1,29,-12.3,28.3,-11.5,28.7,-8.5,30,-8,31,-8.6,33,-9.4,33.3,-11,33,-13.5,30.7,-15.2,30.4,-15.6,28.9,-16,27,-17.9,25.3,-17.8,23.4,-17.6,22,-16.3]];
const malawi=[[33,-9.4,34.5,-9.6,34.8,-11.5,35,-14,35.9,-14.9,35.2,-17.1,34.3,-15.6,34.4,-14.4,33,-13.5,33.3,-11]];
const mozambique=[[40.4,-10.4,40.6,-15,37,-17.5,34.8,-20,35.5,-24,32.8,-25.9,32.9,-26.9,32,-26,31.4,-22.4,32.4,-21.3,33,-19,32.7,-16.5,30.4,-15.6,30.7,-15.2,33,-13.5,34.4,-14.4,34.3,-15.6,35.2,-17.1,35.9,-14.9,35,-14,34.8,-11.5,38,-11.2]];
const zimbabwe=[[25.3,-17.8,27,-17.9,28.9,-16,30.4,-15.6,32.7,-16.5,33,-19,32.4,-21.3,31.4,-22.4,29.4,-22.2,27.5,-20.5]];
const botswana=[[20,-22,21,-22,21,-18,23.4,-17.6,25.3,-17.8,27.5,-20.5,29.4,-22.2,27,-23.7,25.5,-25.6,23,-25.3,20,-24.7]];
const namibia=[[11.8,-17.3,14,-17.4,18.5,-17.4,21,-18,21,-22,20,-22,20,-28.4,17,-28.8,16.5,-28.6,15,-26.5,14.4,-22.5,12,-18.5]];
const southAfrica=[[16.5,-28.6,17,-28.8,20,-28.4,20,-24.7,23,-25.3,25.5,-25.6,27,-23.7,29.4,-22.2,31.4,-22.4,32,-26,32.9,-26.9,32.4,-28.5,31,-30,28,-33,25.7,-34,22.5,-34,20,-34.8,18.4,-34,18.2,-32]];
const lesotho=[[27.1,-29.6,28.2,-28.7,29.4,-29.4,28.2,-30.6]];
const eswatini=[[30.8,-26,32,-26,31.9,-27.2,30.9,-27]];
const madagascar=[[49.3,-12,50.4,-15.5,49.5,-17,47.8,-23,47,-25,45,-25.5,43.7,-23.5,44.3,-20,44,-17.5,46,-15.7,48,-13.6]];
const china=[[73.7,39.5,76,40.3,80.3,42,80,44.9,82.5,45.3,83,47.2,85.5,47,85.7,47.2,87.3,49.2,87.9,49.2,91,46.5,90.8,45,95.5,44.2,96,42.7,101.5,42.5,105,41.6,110,42.7,112,43.7,112,45.1,116,46.5,119.8,47,115.5,47.8,116.7,49.8,119.8,51,120.5,53,123.5,53.5,126,52.8,127.6,49.7,131,47.7,135,48.4,133,45,131.2,44.9,130.6,42.9,128,41.5,125,40,124.3,39.9,121.5,39,121.5,40.8,118,39.2,119,37.5,122.5,37,120,35.5,119.2,34.8,121,32,122,30.5,121.5,28.3,119.7,25.7,117,23.5,114,22.4,110.5,21.3,108,21.6,106.8,22.8,105.3,23.3,102,22.4,101.2,21.4,100,21.5,98.9,24.2,97.5,24,98.6,28,97.4,28.3,94,29,92,27.8,88.9,27.3,88.1,27.9,86,28,83,29,81,30.2,79,31,78.7,32.6,77.8,35.5,74.9,37.3,75,38.5],[108.7,19.3,110.5,20.1,110.9,19.5,109.5,18.2]];
const taiwan=[[121,25,122,25,121,22,120.2,23]];
const mongolia=[[87.9,49.2,92,50.8,98,50.5,98.9,52,102,51.5,102.3,50.6,106.5,50.3,108,49.5,113,49.6,116.7,49.8,115.5,47.8,119.8,47,116,46.5,112,45.1,112,43.7,110,42.7,105,41.6,101.5,42.5,96,42.7,95.5,44.2,90.8,45,91,46.5]];
const northKorea=[[124.3,39.9,125,40,128,41.5,130.6,42.9,130.7,42.4,129.8,41,127.5,39.8,128.3,38.6,126.7,38,125,37.8,125.3,39]];
const southKorea=[[126.7,38,128.3,38.6,129.4,37,129.2,35.2,126.5,34.4,126.5,36.7]];
const japan=[[131,34.3,133,35.5,136,35.8,137,37.3,139.5,38.3,140,40,141.3,41.3,142,39.6,141,38,140.8,35.7,139,34.8,137,34.6,135.7,33.5,135.1,34.6,132.5,34.2],[130,33.5,131.7,33.6,131.4,31.4,130.2,31.3],[132.4,33.3,134.2,34.3,134.7,33.8,133,32.8],[140,41.6,141.3,45.3,145.3,43.5,143.2,42,141,42.6]];
const india=[[68.2,23.7,70.5,25.7,70,27.9,71.3,27.9,74.5,30.9,75,32.5,74.5,34.7,77.8,35.5,78.7,32.6,79,31,81,30.2,80,28.8,83.5,27.4,88.1,26.4,88.1,27.9,88.9,27.3,89,26.8,92,26.9,92,27.8,94,29,97.4,28.3,95.5,26.8,94.2,24.6,93.3,24,92.6,22.8,92.2,23.7,91.5,24.2,92.3,25,89.8,25.3,89,26,88,25,89,22,87,21.4,85,19.6,82.3,16.7,80.2,15.5,80.3,13,79.8,10.3,78,8.8,77.5,8.1,76.3,10,74.9,13,73.4,16,72.8,19,72.7,21,72.2,21,70.9,20.7,69,22.3,70,22.8]];
const nepal=[[80,28.8,81,30.2,83,29,86,28,88.1,27.9,88.1,26.4,83.5,27.4]];
const bhutan=[[89,26.8,88.9,27.3,92,27.8,92,26.9]];
const bangladesh=[[88,25,89,26,89.8,25.3,92.3,25,91.5,24.2,92.2,23.7,92.3,21,91,22.5,89,21.8,89,22]];
const myanmar=[[92.3,21,92.6,22.8,93.3,24,94.2,24.6,95.5,26.8,97.4,28.3,98.6,28,97.5,24,98.9,24.2,100,21.5,101.2,21.4,100.1,20.4,98,19.2,97.7,17.6,98.7,16.1,98.2,15,99.2,11.5,98.7,10,98.5,12,97.7,15.3,97,16.8,95.5,15.8,94.3,16,94.5,18,93.5,19.8]];
const thailand=[[100.1,20.4,101.2,19.5,101,17.5,102.5,17.9,104.7,16.4,105.5,14.3,102.6,13.9,102.9,11.7,101,12.7,100.6,13.5,100,13.4,99.3,10.5,100.3,8.5,101.2,6.8,102,6.2,101,5.6,100.2,6.6,98.3,8,98.7,10,99.2,11.5,98.2,15,98.7,16.1,97.7,17.6,98,19.2]];
const laos=[[101.2,21.4,102,22.4,103,20.9,104.5,20.4,104.3,18.6,106.6,16,107.5,15,107.5,14.6,106,13.9,105.5,14.3,104.7,16.4,102.5,17.9,101,17.5,101.2,19.5,100.1,20.4]];
const vietnam=[[102,22.4,105.3,23.3,106.8,22.8,108,21.6,106,19.7,105.8,18.7,107.2,16.8,109.1,15,109.3,12.5,107,10.4,105,8.7,104.8,10.4,106,11.7,107.5,12.3,107.5,14.6,107.5,15,106.6,16,104.3,18.6,104.5,20.4,103,20.9]];
const cambodia=[[102.9,11.7,102.6,13.9,105.5,14.3,106,13.9,107.5,14.6,107.5,12.3,106,11.7,104.8,10.4,103,10.6]];
const malaysia=[[100.2,6.6,101,5.6,102,6.2,103.4,4.5,103.5,2.7,104.3,1.4,103.4,1.4,101.3,3,100.4,5],[109.6,2,111.3,2.5,113,3.2,115,5,116.8,7,119,5.2,117.7,4.2,116,4.3,115,2.5,114,1.5,112,1.5,110,1]];
const indonesia=[[95.3,5.6,97.5,5.2,100.3,2.8,103.5,0,104.5,-1.9,106,-3,105.8,-5.8,104.5,-5.8,101.5,-3.2,99,-0.5,97.5,2,95.4,4.8],[109,0.3,110,1,112,1.5,114,1.5,115,2.5,116,4.3,117.7,4.2,119,1,117.5,0.5,116.5,-1.5,116,-3.9,114.5,-4,110.5,-3,109.2,-0.5],[105.2,-6.8,106.5,-6,108.5,-6.6,110.8,-6.4,112.7,-7,114.5,-7.8,114.4,-8.7,111,-8.3,108,-7.8,106.3,-7.4],[119.5,-5.5,118.9,-3,119.9,0,120.8,1.3,124.9,1.6,125,1.2,121,0.4,120.1,-0.8,123.3,-1,121.7,-1.9,122.8,-4,122,-5,121,-3,120.4,-5.6],[123.5,-10.4,127,-8.4,125,-9],[116.8,-8.9,118.9,-8.3,123,-8.2,122.8,-8.8,119,-9],[119.2,-9.7,120.8,-10.1,120,-9.4],[127.5,0,128.5,2,128.7,-0.8],[128,-3.2,130.8,-3.2,129,-3.5],[126,-3.2,127.2,-3.2,126.8,-3.8],[131,-0.8,134,-0.8,135,-3.3,137.9,-1.6,141,-2.6,141,-9.1,139,-8,138,-8.4,138.7,-7,138,-5.6,135.2,-4.4,133,-4,132.8,-2.8,133.8,-2.5,132,-2.8],[106,-2,107,-3,105.8,-2.8],[134.2,-6,134.8,-5.6,134.7,-6.7]];
const png=[[141,-2.6,144.5,-3.9,146,-5.5,147.8,-6,147.2,-7,148.5,-9,150.8,-10.3,147.5,-10,146,-8.2,144,-7.7,143,-9.2,141,-9.1],[148.3,-5.6,150.3,-5.5,152,-4.2,152.3,-5,151,-6.2,149,-6.3],[150.8,-2.7,152.8,-4,152.2,-3.3]];
const philippines=[[120.5,18.5,122.2,18.5,122,16,121.6,14.3,124,13,124,12.5,122,13.8,120.7,13.8,120,16],[122,7,123.5,8.5,125.4,9.7,126.5,7.5,125.5,5.6,124,6.5],[117.2,8.4,119.5,11.2,119.3,10,117.5,8.2],[124.3,12.5,125.7,11,125,10.5],[122,11.8,123.2,11.5,122.5,9.9],[120.5,13.4,121.5,13.3,121,12.3]];
const sriLanka=[[79.9,9.7,81.3,8.5,81.8,7,80.6,5.95,80,6.3]];
const cyprus=[[32.3,35,34.5,35.6,33.7,34.7]];
const australia=[[114.2,-22,113.5,-24.5,115,-34.3,116,-35,118,-35,120,-33.9,123.5,-33.9,126,-32.3,131,-31.5,134,-32.7,135.5,-34.8,137.8,-32.8,137.5,-35,139,-35.5,140.5,-38,143.5,-38.8,146.3,-39,150,-37.5,151,-34,153,-31,153.5,-28,153,-25.5,150.8,-23,149,-20.5,146.3,-19,145.3,-15,143.6,-14.3,142.5,-10.7,141.7,-13,141,-17,139.5,-17.6,135.5,-15,136.7,-12.2,133,-11.5,130.8,-12.4,129.5,-15,127.8,-14.5,125.5,-14.5,122.3,-17,122,-18.5,119,-20,116,-21],[144.7,-40.7,148.2,-40.8,148,-42.5,146.5,-43.6,145.3,-42.6]];
const newZealand=[[172.7,-34.5,174.8,-36.8,176,-37.6,178.3,-37.7,177,-39.5,175.3,-41.6,174.8,-40,173.8,-39.3,174.7,-38,174.4,-36.5],[172.7,-40.5,174.2,-41.5,173,-43.5,171,-45,170.5,-46,168.5,-46.6,166.5,-46,168,-44.2,171,-42.3]];
const newCaledonia=[[164,-20.2,167,-22.3,166.2,-22.2]];

const outlines=[usa,canada,greenland,iceland,mexico,guatemala,belize,honduras,salvador,nicaragua,costaRica,panama,cuba,haiti,dominican,jamaica,puertoRico,
colombia,venezuela,guyana,suriname,frenchGuiana,brazil,ecuador,peru,bolivia,paraguay,uruguay,argentina,chile,
portugal,spain,france,belgium,netherlands,germany,denmark,switzerland,austria,italy,ireland,britain,norway,sweden,finland,estonia,latvia,lithuania,poland,czechia,slovakia,hungary,slovenia,croatia,bosnia,serbia,montenegro,albania,macedonia,greece,bulgaria,romania,moldova,ukraine,belarus,turkey,georgia,armenia,azerbaijan,russia,
kazakhstan,uzbekistan,turkmenistan,tajikistan,kyrgyzstan,afghanistan,pakistan,iran,iraq,kuwait,syria,lebanon,israel,jordan,saudi,yemen,oman,uae,qatar,
egypt,sudan,southSudan,car,chad,libya,algeria,tunisia,morocco,mauritania,mali,senegal,gambia,guineaBissau,guinea,sierraLeone,liberia,ivoryCoast,ghana,togo,benin,burkina,niger,nigeria,cameroon,eqGuinea,gabon,congo,drc,uganda,kenya,tanzania,rwanda,burundi,ethiopia,eritrea,djibouti,somalia,angola,zambia,malawi,mozambique,zimbabwe,botswana,namibia,southAfrica,lesotho,eswatini,madagascar,
china,taiwan,mongolia,northKorea,southKorea,japan,india,nepal,bhutan,bangladesh,myanmar,thailand,laos,vietnam,cambodia,malaysia,indonesia,png,philippines,sriLanka,cyprus,australia,newZealand,newCaledonia];
const similarity=[66.8,66.8,67.8,67.8,58.2,58.2,58.2,51,58.2,47.8,52.6,47.8,49.8,41.4,49.8,54.2,57.4,
58.2,54.2,47.8,52.6,52.6,57.8,57.4,55.8,62.4,54.2,65.4,70,70,
70,70,70,67,65.8,69,68,70,67,66.8,70,71,70,70,70,66.6,70,69,70,70,69,68.6,70,69,75,70,70.4,74.7,73.5,71.5,70,75,73,74,72,72,73.5,75.9,76.1,75.7,
100,74,68,71,78.7,70,60.6,71.2,70,70,69,68,70,67.8,63,61.4,67.8,62,60,
61.4,49.4,34.2,27.8,36,68.8,70,70,70,56.8,44.6,50.2,38.2,39.4,37.4,35,35,40.2,39.4,39.4,39.4,38.2,41.4,37.8,41.8,44.6,44.6,42.8,29.1,38.2,52.6,44.6,40.2,30.6,45.6,46.6,60.6,62.2,39.4,41.6,40.2,40.2,43.8,63.4,63.4,63.4,62,59,39.4,
61.4,60.6,70,51,59,60.6,52.2,52.6,51,47.8,41,49.8,40.2,45.4,32.9,54.2,46,33.4,46,47.8,70,70,67.8,70];

const lakes=[[-92,46.7,-88.5,48.5,-86,48.7,-84.7,47,-84.8,46.5,-87,46.5,-90,46.7],[-87.8,41.7,-87,41.7,-86.3,43,-85.2,45.7,-87,45.7,-88,44.5,-87.7,43],[-84.7,46,-81.5,46,-80,44.7,-81.7,43,-82.4,43,-83.5,44,-83.3,45],[-83.3,41.7,-81,41.6,-78.9,42.8,-81,42.7,-83,42.2],[-79.7,43.3,-76.2,43.6,-76.4,44.1,-79,43.9],[-71.9,10.8,-71.1,10.8,-71,9.3,-72,9.3]];
const islandDots=[[-16,28.3],[-14,28.5],[-17.5,28.7],[-15.5,28],[-25.5,37.8],[-28,38.6],[-31,39.5],[-24,16],[-23.5,15],[-16.3,32.7],[-64.8,32.3],[-78,25.5],[-77.5,24.5],[-76,24],[-75,23],[-73.5,21.5],[-71.5,21.7],[-61,14.6],[-61.3,15.5],[-61.7,16.2],[-62.7,17.3],[-63,18.2],[-61.6,12.2],[-61.3,10.5],[-61,10.2],[-69.9,12.5],[-68.9,12.2],[-81.4,19.3],[-91,-0.7],[-90.4,-0.6],[-89.6,-0.9],[-5.7,-15.9],[-14.4,-7.9],[6.7,0.3],[7.4,1.6],[43.3,-11.7],[44.3,-12.2],[45.2,-12.8],[55.5,-21.1],[57.6,-20.3],[55.5,-4.6],[73.4,4.2],[73.5,2],[73.1,-0.6],[72.6,10.6],[92.7,12],[92.7,11],[93.5,7.8],[97,2.5],[98.5,-0.5],[99,-1.5],[100,-2.5],[127.8,26.3],[129.5,28.3],[130.5,30.3],[123.8,24.4],[125.3,24.8],[139.5,33],[142.2,27],[145.7,15.2],[144.8,13.5],[134.5,7.5],[138.1,9.5],[151.8,7.4],[158.2,6.9],[163,5.3],[171.4,7.1],[173,1.4],[160,-9.5],[157.5,-8],[161,-9],[162,-10.5],[167,-15.5],[167.5,-16.2],[168.3,-17.5],[178,-18],[179,-16.6],[-175.2,-21.2],[156,50.6],[155.5,50],[154,48.5],[152,47.2],[150,46],[148.5,45.3],[166,55],[167.5,54.8],[172.5,53],[174,52.2],[176,52],[178.5,51.7],[-176,51.9],[168.5,-52.5],[176,-44],[158.9,-54.7],[-37,-54.3],[-159.8,4],[-157.5,2]];

// ---------- D3 setup ----------
const svg=d3.select("#c");
const bgColor="#d4e1eb";
svg.append("rect").attr("width",5000).attr("height",2500).attr("fill",bgColor);
const lookup=(t,deg)=>{const a=Math.min(Math.abs(deg),89.999)/5,i=Math.floor(a);return t[i]+(t[i+1]-t[i])*(a-i);};
const robinsonRaw=(l,p)=>{const d=p*180/Math.PI;return [.8487*l*lookup(robinsonLength,d),1.3447*Math.sign(d)*lookup(robinsonDepth,d)];};
const projection=d3.geoProjection(robinsonRaw).scale(922.9).translate([2487.5,1279]).rotate([-10.5,0]);
const path=d3.geoPath(d3.geoTransform({point(x,y){const p=projection([x,y]);this.stream.point(p[0],p[1]);}})).pointRadius(3.2);
const color=d3.scaleLinear().domain([19,70,85]).range(["#000000","#ffffff","#dcc000"]).clamp(true);
const pairs=f=>{const r=[];for(let i=0;i<f.length;i+=2)r.push([f[i],f[i+1]]);r.push(r[0]);return r;};
const geo=rings=>({type:"MultiPolygon",coordinates:rings.map(r=>[pairs(r)])});
const mapG=svg.append("g").attr("stroke","#141414").attr("stroke-width",2.6).attr("stroke-linejoin","round");
mapG.selectAll("path.c").data(outlines).join("path").attr("class","c").attr("d",d=>path(geo(d))).attr("fill",(d,i)=>color(similarity[i]));
mapG.append("path").attr("d",path(geo(lakes))).attr("fill",bgColor);
svg.append("path").attr("d",path({type:"MultiPoint",coordinates:islandDots})).attr("fill","#222").attr("stroke","none");

// ---------- text ----------
const SANS="'DejaVu Sans',sans-serif";
function label(s,x,y,size,opts={}){
 const t=svg.append("text").attr("x",x).attr("y",y).attr("font-size",size).attr("fill",opts.fill||"#333")
  .attr("font-family",SANS).attr("font-weight",opts.bold?"bold":"normal").text(s);
 if(opts.narrow)t.attr("font-stretch","condensed").style("font-stretch","condensed");
 if(opts.end!=null)t.attr("textLength",opts.end-x).attr("lengthAdjust","spacingAndGlyphs");
 return t;
}
label("By Jeff M. Jones",102,102,60,{bold:true,end:634});
label("objectivelists.com",102,173,60,{end:621});
label("Country Food Similarity Index",4042,101,56,{bold:true,narrow:true,fill:"#000",end:4953});
label("2020 data",4686,175,60,{narrow:true,fill:"#000",end:4953});
label("Version 3",4706,246,60,{narrow:true,fill:"#000",end:4953});
label("Which countries have the most similar food ingredients to Kazakhstan?",660,2288,100,{bold:true,end:4325});
label("(Based on 2020 Food & Agriculture Organization of the U.N. Data)",1424,2428,71,{end:3586});

// legend
const defs=svg.append("defs");
const grad=defs.append("linearGradient").attr("id","lg").attr("x1",0).attr("x2",0).attr("y1",1).attr("y2",0);
[[0,19],[.5,70],[1,85]].forEach(([o,v])=>grad.append("stop").attr("offset",o).attr("stop-color",color(v)));
svg.append("rect").attr("x",100).attr("y",1098).attr("width",61).attr("height",1032).attr("fill","url(#lg)");
label("More similar food to Kazakhstan",211,1150,60,{narrow:true,end:1064});
svg.append("rect").attr("x",211).attr("y",1152).attr("width",853).attr("height",3).attr("fill","#333");
label("Less similar food to Kazakhstan",211,2121,60,{narrow:true,end:1047});
svg.append("rect").attr("x",211).attr("y",2124).attr("width",836).attr("height",3).attr("fill","#333");
label("5 Most Similar Diets",211,1286,48,{bold:true,narrow:true,end:696});
label("5 Least Similar Diets",211,1690,48,{bold:true,narrow:true,end:708});
const mostEnds=[499,490,445,405,423], leastEnds=[533,486,754,545,742];
const mostY=[1344,1402,1460,1517,1575], leastY=[1746,1805,1862,1920,1977];
mostNames.forEach((n,i)=>{label(n,211,mostY[i],48,{narrow:true,end:mostEnds[i]});label(d3.format(".1f")(mostValues[i]),770,mostY[i],48,{narrow:true,end:863});});
leastNames.forEach((n,i)=>{label(n,211,leastY[i],48,{narrow:true,end:leastEnds[i]});label(d3.format(".1f")(leastValues[i]),770,leastY[i],48,{narrow:true,end:861});});

// food table
label("1st Most",4447,921,35,{bold:true,narrow:true,end:4599});
label("2nd Most",4732,921,35,{bold:true,narrow:true,end:4896});
const rowY=[964,1008,1051,1095], rowEnd=[4315,4269,4365,4301], firstEnd=[4516,4621,4565,4547], secondEnd=[4851,4919,4821,4830];
foodRows.forEach((r,i)=>{label(r,4175,rowY[i],35,{bold:true,narrow:true,end:rowEnd[i]});
 label(foodFirst[i],4447,rowY[i],35,{narrow:true,end:firstEnd[i]});label(foodSecond[i],4732,rowY[i],35,{narrow:true,end:secondEnd[i]});});

// flag of Kazakhstan
const gold="#fcc30c";
const flag=svg.append("g");
flag.append("rect").attr("x",100).attr("y",567).attr("width",618).attr("height",308).attr("fill","#01afcd");
flag.append("circle").attr("cx",434).attr("cy",696).attr("r",41).attr("fill",gold);
d3.range(32).forEach(i=>{const a=i/32*2*Math.PI;
 const p=(r,da)=>[434+r*Math.cos(a+da),696+r*Math.sin(a+da)].join(",");
 flag.append("polygon").attr("points",[p(47,-.05),p(64,0),p(47,.05)].join(" ")).attr("fill",gold);});
const wings=["M346 708 Q 352 736 376 752 Q 402 768 434 772 Q 466 768 492 752 Q 516 736 522 708","M340 726 L 358 746 M344 716 L 362 738 M352 708 L 366 732 M528 726 L 510 746 M524 716 L 506 738 M516 708 L 502 732","M346 744 Q 366 770 396 780 M522 744 Q 502 770 472 780","M434 772 L 408 794 L 424 790 Z","M420 800 Q 450 802 486 790 L 470 800 Q 445 806 422 804 Z"];
wings.forEach(d=>flag.append("path").attr("d",d).attr("fill",d.endsWith("Z")?gold:"none").attr("stroke",gold).attr("stroke-width",4));
d3.range(4).forEach(i=>{const cy=[622,680,762,812][i];
 flag.append("polygon").attr("points",`137,${cy-34} 155,${cy} 137,${cy+28} 119,${cy}`).attr("fill","none").attr("stroke",gold).attr("stroke-width",5);
 flag.append("path").attr("d",`M137 ${cy-18}V${cy+14}M127 ${cy-2}H147`).attr("stroke",gold).attr("stroke-width",5);
});
[592,850].forEach(cy=>flag.append("path").attr("d",`M121 ${cy-8}Q137 ${cy+14} 153 ${cy-8}M125 ${cy+8}Q137 ${cy-12} 149 ${cy+8}`).attr("stroke",gold).attr("stroke-width",6).attr("fill","none"));
</script></body></html>
